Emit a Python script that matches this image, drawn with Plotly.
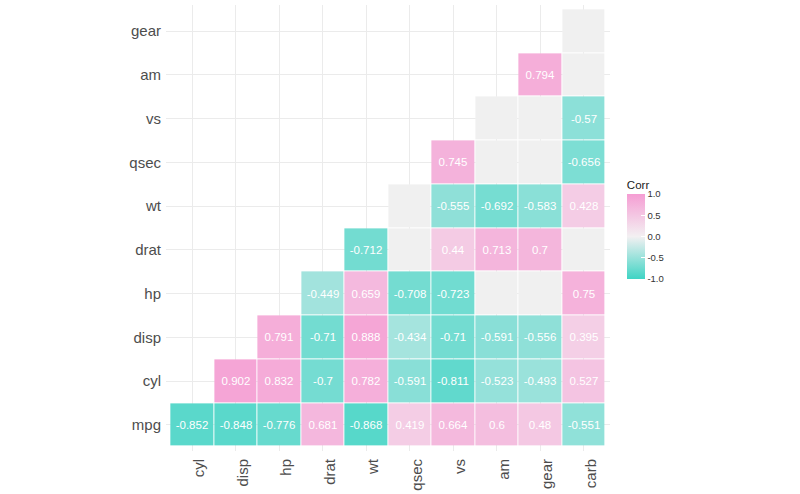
import plotly.graph_objects as go

x_vars = ["cyl", "disp", "hp", "drat", "wt", "qsec", "vs", "am", "gear", "carb"]
y_vars = ["mpg", "cyl", "disp", "hp", "drat", "wt", "qsec", "vs", "am", "gear"]

# correlation values per row (y), aligned with x_vars; None = not in triangle
corr_mpg  = [-0.852, -0.848, -0.776, 0.681, -0.868, 0.419, 0.664, 0.6, 0.48, -0.551]
corr_cyl  = [None, 0.902, 0.832, -0.7, 0.782, -0.591, -0.811, -0.523, -0.493, 0.527]
corr_disp = [None, None, 0.791, -0.71, 0.888, -0.434, -0.71, -0.591, -0.556, 0.395]
corr_hp   = [None, None, None, -0.449, 0.659, -0.708, -0.723, -0.243, -0.126, 0.75]
corr_drat = [None, None, None, None, -0.712, 0.091, 0.44, 0.713, 0.7, -0.091]
corr_wt   = [None, None, None, None, None, -0.175, -0.555, -0.692, -0.583, 0.428]
corr_qsec = [None, None, None, None, None, None, 0.745, -0.23, -0.213, -0.656]
corr_vs   = [None, None, None, None, None, None, None, 0.168, 0.206, -0.57]
corr_am   = [None, None, None, None, None, None, None, None, 0.794, 0.058]
corr_gear = [None, None, None, None, None, None, None, None, None, 0.274]

# 1 = significant (coloured), 0 = not significant (blank grey)
sig_mpg  = [1, 1, 1, 1, 1, 1, 1, 1, 1, 1]
sig_cyl  = [0, 1, 1, 1, 1, 1, 1, 1, 1, 1]
sig_disp = [0, 0, 1, 1, 1, 1, 1, 1, 1, 1]
sig_hp   = [0, 0, 0, 1, 1, 1, 1, 0, 0, 1]
sig_drat = [0, 0, 0, 0, 1, 0, 1, 1, 1, 0]
sig_wt   = [0, 0, 0, 0, 0, 0, 1, 1, 1, 1]
sig_qsec = [0, 0, 0, 0, 0, 0, 1, 0, 0, 1]
sig_vs   = [0, 0, 0, 0, 0, 0, 0, 0, 0, 1]
sig_am   = [0, 0, 0, 0, 0, 0, 0, 0, 1, 0]
sig_gear = [0, 0, 0, 0, 0, 0, 0, 0, 0, 0]

corr_rows = [corr_mpg, corr_cyl, corr_disp, corr_hp, corr_drat, corr_wt,
             corr_qsec, corr_vs, corr_am, corr_gear]
sig_rows = [sig_mpg, sig_cyl, sig_disp, sig_hp, sig_drat, sig_wt,
            sig_qsec, sig_vs, sig_am, sig_gear]

z_sig, t_sig, z_ins = [], [], []
for vals, sigs in zip(corr_rows, sig_rows):
    zr, tr, gr = [], [], []
    for v, s in zip(vals, sigs):
        if v is None:
            zr.append(None); tr.append(""); gr.append(None)
        elif s:
            zr.append(v); tr.append(f"{v:g}"); gr.append(None)
        else:
            zr.append(None); tr.append(""); gr.append(0)
    z_sig.append(zr); t_sig.append(tr); z_ins.append(gr)

LOW, MID, HIGH = "#3FD4C4", "#F3F0F2", "#F59DD3"

fig = go.Figure()
fig.add_trace(go.Heatmap(
    x=x_vars, y=y_vars, z=z_ins,
    colorscale=[[0, "#F0F0F0"], [1, "#F0F0F0"]],
    showscale=False, xgap=1, ygap=1, hoverinfo="skip",
))
fig.add_trace(go.Heatmap(
    x=x_vars, y=y_vars, z=z_sig, text=t_sig, texttemplate="%{text}",
    textfont=dict(color="white", size=11.5, family="Liberation Sans, Arial"),
    zmin=-1, zmax=1,
    colorscale=[[0, LOW], [0.5, MID], [1, HIGH]],
    xgap=1, ygap=1,
    colorbar=dict(
        title=dict(text="Corr", side="top", font=dict(size=11.5, color="#1a1a1a")),
        lenmode="pixels", len=102, thickness=18,
        x=1.038, xanchor="left", xpad=0,
        y=0.5, yanchor="middle", ypad=0,
        tickvals=[-1, -0.5, 0, 0.5, 1],
        ticktext=["-1.0", "-0.5", "0.0", "0.5", "1.0"],
        ticks="inside", ticklen=4, tickcolor="white",
        tickfont=dict(size=9.5, color="#333333"),
        outlinewidth=0,
    ),
))

axis_font = dict(size=15, color="#4D4D4D", family="Liberation Sans, Arial")
fig.update_layout(
    width=800, height=494,
    margin=dict(l=166, r=190, t=5, b=43),
    paper_bgcolor="white", plot_bgcolor="white",
    font=dict(family="Liberation Sans, Arial"),
    xaxis=dict(
        type="category", range=[-0.6, 9.6], tickangle=-90, automargin=False,
        tickfont=axis_font, showgrid=True, gridcolor="#EBEBEB", gridwidth=1,
        zeroline=False, showline=False, ticks="", ticklabelshift=7,
        ticklabelstandoff=4,
    ),
    yaxis=dict(
        type="category", range=[-0.6, 9.6], automargin=False,
        tickfont=axis_font, showgrid=True, gridcolor="#EBEBEB", gridwidth=1,
        zeroline=False, showline=False, ticks="", ticklabelstandoff=4,
    ),
)

fig.write_html(
    "out.html",
    config={"displayModeBar": False},
    post_script="document.body.style.margin='0';document.body.style.overflow='hidden';",
)
